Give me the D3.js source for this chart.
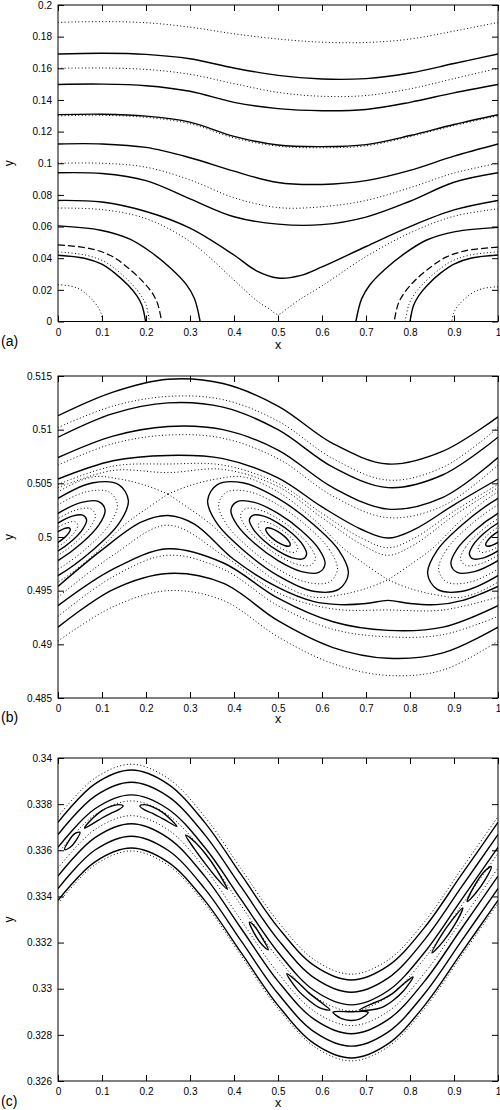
<!DOCTYPE html>
<html><head><meta charset="utf-8">
<script src="https://cdnjs.cloudflare.com/ajax/libs/d3/7.8.5/d3.min.js"></script>
<style>
body{margin:0;background:#fff}
svg{display:block}
text{font-family:"Liberation Sans",Arial,Helvetica,sans-serif;fill:#000}
</style></head>
<body><svg id="chart" width="500" height="1110"></svg>
<script>
// ---------- ticks ----------
const xTicks=[0,0.1,0.2,0.3,0.4,0.5,0.6,0.7,0.8,0.9,1];
const xTickLabels=["0","0.1","0.2","0.3","0.4","0.5","0.6","0.7","0.8","0.9","1"];
const aYTicks=[0,0.02,0.04,0.06,0.08,0.1,0.12,0.14,0.16,0.18,0.2];
const aYTickLabels=["0","0.02","0.04","0.06","0.08","0.1","0.12","0.14","0.16","0.18","0.2"];
const bYTicks=[0.485,0.49,0.495,0.5,0.505,0.51,0.515];
const bYTickLabels=["0.485","0.49","0.495","0.5","0.505","0.51","0.515"];
const cYTicks=[0.326,0.328,0.33,0.332,0.334,0.336,0.338,0.34];
const cYTickLabels=["0.326","0.328","0.33","0.332","0.334","0.336","0.338","0.34"];

// ---------- panel (a) ----------
const aWaveX=[0,0.1,0.2,0.3,0.4,0.5,0.6,0.7,0.8,0.9,1];
const aSolidWaves=[
 [0.1690,0.1695,0.1688,0.1660,0.1602,0.1555,0.1532,0.1535,0.1570,0.1630,0.1690],
 [0.1498,0.1500,0.1490,0.1455,0.1385,0.1345,0.1332,0.1340,0.1385,0.1445,0.1498],
 [0.1307,0.1310,0.1298,0.1260,0.1170,0.1115,0.1105,0.1118,0.1175,0.1245,0.1307],
 [0.1122,0.1122,0.1100,0.1035,0.0950,0.0878,0.0866,0.0890,0.0955,0.1045,0.1122],
 [0.0940,0.0935,0.0890,0.0775,0.0662,0.0615,0.0612,0.0660,0.0760,0.0880,0.0940]
];
const aDottedWaves=[
 [0.1890,0.1895,0.1888,0.1860,0.1818,0.1785,0.1765,0.1763,0.1785,0.1835,0.1890],
 [0.1600,0.1602,0.1593,0.1562,0.1503,0.1448,0.1423,0.1428,0.1470,0.1535,0.1600],
 [0.1300,0.1303,0.1290,0.1250,0.1160,0.1108,0.1098,0.1110,0.1168,0.1238,0.1300],
 [0.1000,0.1000,0.0975,0.0895,0.0782,0.0720,0.0725,0.0765,0.0845,0.0938,0.1000]
];
const aOuterSolid=[[0,0.0765],[0.1,0.0755],[0.2,0.0695],[0.3,0.0590],[0.4,0.0420],[0.45,0.0322],[0.5,0.0275],[0.55,0.0290],[0.6,0.0345],[0.7,0.0474],[0.8,0.0600],[0.9,0.0705],[1,0.0765]];
const aSeparatrix=[[0,0.0717],[0.1,0.0707],[0.2,0.0650],[0.3,0.0505],[0.4,0.0262],[0.45,0.0135],[0.48,0.0080],[0.5,0.0045],[0.52,0.0080],[0.55,0.0140],[0.6,0.0225],[0.7,0.0410],[0.8,0.0560],[0.9,0.0665],[1,0.0712]];
const aSolidArcs=[
 [[0,0.0604],[0.097,0.0577],[0.162,0.0522],[0.210,0.0441],[0.258,0.0332],[0.291,0.0236],[0.310,0.0145],[0.323,0]],
 [[0,0.0419],[0.060,0.0400],[0.0995,0.0362],[0.129,0.0306],[0.159,0.0230],[0.179,0.0163],[0.191,0.0101],[0.199,0]],
 [[1,0.0595],[0.903,0.0568],[0.838,0.0515],[0.790,0.0434],[0.742,0.0327],[0.709,0.0232],[0.690,0.0143],[0.677,0]],
 [[1,0.0420],[0.94,0.0401],[0.90,0.0363],[0.87,0.0307],[0.84,0.0231],[0.82,0.0164],[0.808,0.0101],[0.80,0]]
];
const aDashedArcs=[
 [[0,0.0484],[0.071,0.0462],[0.118,0.0419],[0.153,0.0353],[0.188,0.0266],[0.212,0.0189],[0.226,0.0116],[0.2356,0]],
 [[1,0.0470],[0.9292,0.0449],[0.882,0.0407],[0.8466,0.0343],[0.8112,0.0259],[0.7876,0.0183],[0.7734,0.0113],[0.764,0]]
];
const aDottedArcs=[
 [[0,0.0440],[0.062,0.0420],[0.104,0.0381],[0.135,0.0321],[0.166,0.0242],[0.187,0.0172],[0.200,0.0106],[0.208,0]],
 [[0,0.0233],[0.030,0.0223],[0.051,0.0202],[0.066,0.0170],[0.081,0.0128],[0.091,0.0091],[0.0975,0.0056],[0.1015,0]],
 [[1,0.0440],[0.9367,0.0420],[0.8945,0.0381],[0.8628,0.0321],[0.8312,0.0242],[0.8101,0.0172],[0.7974,0.0106],[0.789,0]],
 [[1,0.0220],[0.9685,0.0210],[0.9475,0.0190],[0.9318,0.0161],[0.916,0.0121],[0.9055,0.0086],[0.8992,0.0053],[0.895,0]]
];

// ---------- panel (b) ----------
const bSolidPass=[
 [[0,0.5113],[0.125,0.5135],[0.25,0.5147],[0.375,0.5143],[0.5,0.5122],[0.625,0.5087],[0.75,0.5068],[0.875,0.5080],[1,0.5112]],
 [[0,0.5093],[0.125,0.5115],[0.25,0.5125],[0.375,0.5121],[0.5,0.5100],[0.625,0.5065],[0.75,0.5046],[0.875,0.5058],[1,0.5093]],
 [[0,0.5074],[0.125,0.5094],[0.25,0.5103],[0.375,0.5100],[0.5,0.5081],[0.625,0.5046],[0.75,0.5026],[0.875,0.5037],[1,0.5074]],
 [[0,0.5054],[0.125,0.5071],[0.25,0.5076],[0.375,0.5073],[0.5,0.5055],[0.6,0.5028],[0.69,0.5007],[0.75,0.4999],[0.81,0.5007],[0.9,0.5030],[1,0.5054]],
 [[0,0.4954],[0.1,0.4988],[0.19,0.5014],[0.25,0.5020],[0.31,0.5012],[0.4,0.4979],[0.5,0.4953],[0.58,0.4940],[0.64,0.4937],[0.7,0.4938],[0.75,0.4941],[0.8,0.4938],[0.86,0.4937],[0.92,0.4941],[1,0.4954]],
 [[0,0.4936],[0.125,0.4970],[0.25,0.4989],[0.375,0.4976],[0.5,0.4943],[0.625,0.4921],[0.75,0.4913],[0.875,0.4916],[1,0.4936]],
 [[0,0.4916],[0.125,0.4951],[0.25,0.4966],[0.375,0.4957],[0.5,0.4922],[0.625,0.4897],[0.75,0.4887],[0.875,0.4892],[1,0.4916]]
];
const bDottedPass=[
 [[0,0.5102],[0.125,0.5122],[0.25,0.5131],[0.375,0.5128],[0.5,0.5108],[0.625,0.5073],[0.75,0.5053],[0.875,0.5065],[1,0.5102]],
 [[0,0.5067],[0.125,0.5087],[0.25,0.5095],[0.375,0.5092],[0.5,0.5073],[0.625,0.5038],[0.75,0.5018],[0.875,0.5029],[1,0.5067]],
 [[0,0.5049],[0.125,0.5066],[0.25,0.5068],[0.375,0.5067],[0.5,0.5050],[0.6,0.5022],[0.69,0.4999],[0.75,0.4990],[0.81,0.4999],[0.9,0.5024],[1,0.5049]],
 [[0,0.5046],[0.125,0.5062],[0.25,0.5060],[0.375,0.5063],[0.5,0.5047],[0.6,0.5018],[0.69,0.4993],[0.75,0.4983],[0.81,0.4993],[0.9,0.5020],[1,0.5046]],
 [[0,0.4944],[0.125,0.4983],[0.25,0.5011],[0.375,0.4983],[0.5,0.4948],[0.625,0.4933],[0.75,0.4932],[0.875,0.4932],[1,0.4944]],
 [[0,0.4926],[0.125,0.4963],[0.25,0.4983],[0.375,0.4970],[0.5,0.4936],[0.625,0.4914],[0.75,0.4907],[0.875,0.4909],[1,0.4926]],
 [[0,0.4903],[0.125,0.4935],[0.25,0.4950],[0.375,0.4941],[0.5,0.4907],[0.625,0.4882],[0.75,0.4871],[0.875,0.4876],[1,0.4903]]
];
// island contours as [offset from island centre in x, offset from 0.5 in y]
const islandSolid=[
 [[0.16,-0.00338],[0.1386,-0.00126],[0.08,0.00119],[0,0.0036],[-0.08,0.00505],[-0.1386,0.00486],[-0.16,0.00338],[-0.1386,0.00126],[-0.08,-0.00119],[0,-0.0036],[0.08,-0.00505],[0.1386,-0.00486]],
 [[0.107,-0.00249],[0.0927,-0.0011],[0.0535,0.00059],[0,0.0022],[-0.0535,0.00322],[-0.0927,0.0033],[-0.107,0.00249],[-0.0927,0.0011],[-0.0535,-0.00059],[0,-0.0022],[0.0535,-0.00322],[0.0927,-0.0033]],
 [[0.065,-0.00159],[0.0563,-0.00074],[0.0325,0.00032],[0,0.0013],[-0.0325,0.00194],[-0.0563,0.00204],[-0.065,0.00159],[-0.0563,0.00074],[-0.0325,-0.00032],[0,-0.0013],[0.0325,-0.00194],[0.0563,-0.00204]],
 [[0.028,-0.0007],[0.0242,-0.00036],[0.014,0.00008],[0,0.0005],[-0.014,0.00078],[-0.0242,0.00086],[-0.028,0.0007],[-0.0242,0.00036],[-0.014,-0.00008],[0,-0.0005],[0.014,-0.00078],[0.0242,-0.00086]]
];
const islandDotted=[
 [[0.135,-0.0030],[0.1169,-0.00118],[0.0675,0.00095],[0,0.0030],[-0.0675,0.00424],[-0.1169,0.00418],[-0.135,0.0030],[-0.1169,0.00118],[-0.0675,-0.00095],[0,-0.0030],[0.0675,-0.00424],[0.1169,-0.00418]],
 [[0.085,-0.00204],[0.0736,-0.00094],[0.0425,0.00042],[0,0.0017],[-0.0425,0.00253],[-0.0736,0.00264],[-0.085,0.00204],[-0.0736,0.00094],[-0.0425,-0.00042],[0,-0.0017],[0.0425,-0.00253],[0.0736,-0.00264]],
 [[0.045,-0.00112],[0.039,-0.00052],[0.0225,0.00022],[0,0.0009],[-0.0225,0.00134],[-0.039,0.00142],[-0.045,0.00112],[-0.039,0.00052],[-0.0225,-0.00022],[0,-0.0009],[0.0225,-0.00134],[0.039,-0.00142]]
];
const sepUpper=[[-0.25,0.0040],[-0.2,0.0048],[-0.14,0.0054],[-0.08,0.0056],[0,0.0042],[0.08,0.0017],[0.15,-0.0011],[0.2,-0.0026],[0.25,-0.0040]];
const sepLower=[[-0.25,0.0040],[-0.2,0.0026],[-0.15,0.0011],[-0.08,-0.0017],[0,-0.0042],[0.08,-0.0056],[0.14,-0.0054],[0.2,-0.0048],[0.25,-0.0040]];
const islandCenters=[0,0.5,1];
const islandDirs=[-1,1,-1];

// ---------- panel (c) ----------
const cWaveX=[0,0.0833,0.1667,0.25,0.3333,0.4167,0.5,0.5833,0.6667,0.75,0.8333,0.9167,1];
const cSolidWaves=[
 [0.33721,0.33887,0.33948,0.33887,0.33721,0.33493,0.33266,0.33099,0.33038,0.33099,0.33266,0.33493,0.33721],
 [0.33668,0.33834,0.33895,0.33834,0.33668,0.33440,0.33213,0.33046,0.32985,0.33046,0.33213,0.33440,0.33668],
 [0.33613,0.33779,0.33840,0.33779,0.33613,0.33385,0.33158,0.32991,0.32930,0.32991,0.33158,0.33385,0.33613],
 [0.33488,0.33654,0.33715,0.33654,0.33488,0.33260,0.33033,0.32866,0.32805,0.32866,0.33033,0.33260,0.33488],
 [0.33434,0.33600,0.33661,0.33600,0.33434,0.33206,0.32979,0.32812,0.32751,0.32812,0.32979,0.33206,0.33434],
 [0.33383,0.33549,0.33610,0.33549,0.33383,0.33155,0.32928,0.32761,0.32700,0.32761,0.32928,0.33155,0.33383]
];
const cDottedWaves=[
 [0.33746,0.33912,0.33973,0.33912,0.33746,0.33518,0.33291,0.33124,0.33063,0.33124,0.33291,0.33518,0.33746],
 [0.33587,0.33753,0.33814,0.33753,0.33587,0.33359,0.33132,0.32965,0.32904,0.32965,0.33132,0.33359,0.33587],
 [0.33523,0.33689,0.33750,0.33689,0.33523,0.33295,0.33068,0.32901,0.32840,0.32901,0.33068,0.33295,0.33523],
 [0.33370,0.33536,0.33597,0.33536,0.33370,0.33142,0.32915,0.32748,0.32687,0.32748,0.32915,0.33142,0.33370]
];
const cIslandTops=[
 [[0.015,0.33603],[0.025,0.33642],[0.038,0.33672],[0.05,0.33678]],
 [[0.06,0.33696],[0.08,0.33741],[0.10,0.33772],[0.12,0.33790],[0.138,0.33798],[0.148,0.33792]],
 [[0.186,0.33792],[0.196,0.33798],[0.215,0.33788],[0.24,0.33761],[0.27,0.33703]],
 [[0.29,0.33665],[0.31,0.33638],[0.335,0.33585],[0.36,0.33517],[0.385,0.33430]],
 [[0.435,0.33288],[0.447,0.33270],[0.462,0.33226],[0.478,0.33169]],
 [[0.52,0.33065],[0.545,0.33028],[0.57,0.32982],[0.595,0.32945],[0.618,0.32908]],
 [[0.625,0.32898],[0.665,0.32900],[0.705,0.32898]],
 [[0.686,0.32908],[0.71,0.32932],[0.735,0.32952],[0.76,0.32979],[0.785,0.33020],[0.807,0.33051]],
 [[0.85,0.33155],[0.87,0.33228],[0.895,0.33296],[0.92,0.33350]],
 [[0.93,0.33378],[0.945,0.33441],[0.97,0.33510],[0.985,0.33529]]
];
const cIslandBottoms=[
 [[0.015,0.33603],[0.027,0.33612],[0.04,0.33640],[0.05,0.33678]],
 [[0.06,0.33696],[0.08,0.33717],[0.10,0.33740],[0.12,0.33760],[0.138,0.33776],[0.148,0.33792]],
 [[0.186,0.33792],[0.196,0.33776],[0.215,0.33760],[0.24,0.33735],[0.27,0.33703]],
 [[0.29,0.33665],[0.31,0.33606],[0.335,0.33541],[0.36,0.33481],[0.385,0.33430]],
 [[0.435,0.33288],[0.45,0.33227],[0.465,0.33188],[0.478,0.33169]],
 [[0.52,0.33065],[0.545,0.32994],[0.57,0.32950],[0.595,0.32917],[0.618,0.32908]],
 [[0.625,0.32898],[0.645,0.32870],[0.665,0.32862],[0.685,0.32868],[0.705,0.32898]],
 [[0.686,0.32908],[0.71,0.32908],[0.735,0.32918],[0.76,0.32947],[0.785,0.32990],[0.807,0.33051]],
 [[0.85,0.33155],[0.875,0.33204],[0.90,0.33272],[0.92,0.33350]],
 [[0.93,0.33378],[0.95,0.33416],[0.972,0.33476],[0.985,0.33529]]
];

// ---------- drawing ----------
const svg=d3.select("#chart");
const FONT='"Liberation Sans",Arial,Helvetica,sans-serif';
const xScale=d3.scaleLinear().domain([0,1]).range([58,498]);
const STY={
 solid:{w:1.4,dash:null},
 dotted:{w:1.0,dash:"1,2.4"},
 dashed:{w:1.25,dash:"7,3"}
};
const panels=[
 {id:"a",top:5,bottom:321.5,domain:[0,0.2],ticks:aYTicks,labels:aYTickLabels,letter:"(a)",letterY:345.5,xLabY:349},
 {id:"b",top:376,bottom:698,domain:[0.485,0.515],ticks:bYTicks,labels:bYTickLabels,letter:"(b)",letterY:722,xLabY:723},
 {id:"c",top:758,bottom:1081,domain:[0.326,0.34],ticks:cYTicks,labels:cYTickLabels,letter:"(c)",letterY:1105.5,xLabY:1106.5}
];

function setup(p){
 const y=d3.scaleLinear().domain(p.domain).range([p.bottom,p.top]);
 const g=svg.append("g");
 g.append("clipPath").attr("id","clip-"+p.id).append("rect")
  .attr("x",58).attr("y",p.top).attr("width",440).attr("height",p.bottom-p.top);
 const plot=g.append("g").attr("clip-path","url(#clip-"+p.id+")");
 const line=d3.line().x(d=>xScale(d[0])).y(d=>y(d[1])).curve(d3.curveCatmullRom.alpha(0.5));
 const closed=d3.line().x(d=>xScale(d[0])).y(d=>y(d[1])).curve(d3.curveCatmullRomClosed.alpha(0.5));
 function draw(pts,style,isClosed){
  const s=STY[style];
  plot.append("path").attr("d",(isClosed?closed:line)(pts))
   .attr("fill","none").attr("stroke","#000").attr("stroke-width",s.w)
   .attr("stroke-dasharray",s.dash).attr("stroke-linejoin","round");
 }
 return {g,y,draw};
}

function axes(p,g,y){
 const fmtX=(d,i)=>xTickLabels[i];
 const fmtY=(d,i)=>p.labels[i];
 const bx=g.append("g").attr("transform",`translate(0,${p.bottom})`)
  .call(d3.axisBottom(xScale).tickValues(xTicks).tickSizeInner(-6).tickSizeOuter(0).tickPadding(7).tickFormat(fmtX));
 const tx=g.append("g").attr("transform",`translate(0,${p.top})`)
  .call(d3.axisTop(xScale).tickValues(xTicks).tickSizeInner(-6).tickSizeOuter(0).tickFormat(""));
 const ly=g.append("g").attr("transform",`translate(58,0)`)
  .call(d3.axisLeft(y).tickValues(p.ticks).tickSizeInner(-6).tickSizeOuter(0).tickPadding(6).tickFormat(fmtY));
 const ry=g.append("g").attr("transform",`translate(498,0)`)
  .call(d3.axisRight(y).tickValues(p.ticks).tickSizeInner(-6).tickSizeOuter(0).tickFormat(""));
 [bx,tx,ly,ry].forEach(a=>{
  a.select(".domain").remove();
  a.selectAll("line").attr("stroke","#000").attr("stroke-width",1);
  a.selectAll("text").attr("font-family",FONT).attr("font-size",10).attr("fill","#111");
  a.attr("font-family",FONT).attr("font-size",10);
 });
 g.append("rect").attr("x",58).attr("y",p.top).attr("width",440).attr("height",p.bottom-p.top)
  .attr("fill","none").attr("stroke","#000").attr("stroke-width",1);
 g.append("text").attr("x",278).attr("y",p.xLabY).attr("text-anchor","middle")
  .attr("font-size",12.5).attr("font-family",FONT).text("x");
 g.append("text").attr("transform",`translate(13,${(p.top+p.bottom)/2}) rotate(-90)`)
  .attr("text-anchor","middle").attr("font-size",12).attr("font-family",FONT).text("y");
 g.append("text").attr("x",1).attr("y",p.letterY).attr("font-size",14).attr("font-family",FONT).text(p.letter);
}

// panel a
{
 const p=panels[0]; const {g,y,draw}=setup(p);
 aSolidWaves.forEach(ys=>draw(aWaveX.map((x,i)=>[x,ys[i]]),"solid"));
 aDottedWaves.forEach(ys=>draw(aWaveX.map((x,i)=>[x,ys[i]]),"dotted"));
 draw(aOuterSolid,"solid");
 draw(aSeparatrix,"dotted");
 aSolidArcs.forEach(a=>draw(a,"solid"));
 aDashedArcs.forEach(a=>draw(a,"dashed"));
 aDottedArcs.forEach(a=>draw(a,"dotted"));
 axes(p,g,y);
}
// panel b
{
 const p=panels[1]; const {g,y,draw}=setup(p);
 bSolidPass.forEach(c=>draw(c,"solid"));
 bDottedPass.forEach(c=>draw(c,"dotted"));
 islandCenters.forEach((cx,k)=>{
  const dir=islandDirs[k];
  const place=pts=>pts.map(d=>[cx+dir*d[0],0.5+d[1]]);
  islandSolid.forEach(c=>draw(place(c),"solid",true));
  islandDotted.forEach(c=>draw(place(c),"dotted",true));
  draw(place(sepUpper),"dotted");
  draw(place(sepLower),"dotted");
 });
 axes(p,g,y);
}
// panel c
{
 const p=panels[2]; const {g,y,draw}=setup(p);
 cSolidWaves.forEach(ys=>draw(cWaveX.map((x,i)=>[x,ys[i]]),"solid"));
 cDottedWaves.forEach(ys=>draw(cWaveX.map((x,i)=>[x,ys[i]]),"dotted"));
 cIslandTops.forEach((top,i)=>{
  const bot=cIslandBottoms[i];
  const ring=top.concat(bot.slice(1,-1).reverse());
  draw(ring,"solid",true);
 });
 axes(p,g,y);
}
</script></body></html>
